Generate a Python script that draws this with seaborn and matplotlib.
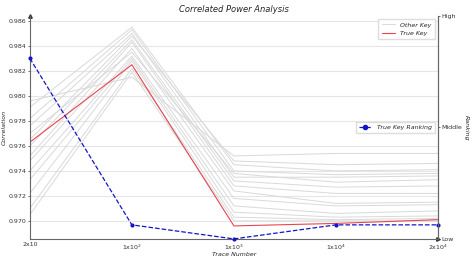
import pandas as pd
import matplotlib
matplotlib.use('Agg')
import matplotlib.pyplot as plt
from matplotlib.lines import Line2D
import seaborn as sns

sns.set_style('white')
plt.rcParams['font.family'] = ['DejaVu Sans']

traces = ['2x10', '1x10$^2$', '1x10$^3$', '1x10$^4$', '2x10$^4$']

# correlacao das chaves erradas (uma lista por chave)
other_keys = [
    [0.9796, 0.9815, 0.9752, 0.9754, 0.9754],
    [0.9791, 0.9855, 0.9745, 0.9740, 0.9741],
    [0.9782, 0.9853, 0.9740, 0.9737, 0.9738],
    [0.9776, 0.9850, 0.9735, 0.9735, 0.9736],
    [0.9770, 0.9835, 0.9738, 0.9731, 0.9733],
    [0.9765, 0.9848, 0.9748, 0.9745, 0.9746],
    [0.9760, 0.9845, 0.9732, 0.9727, 0.9728],
    [0.9752, 0.9843, 0.9728, 0.9722, 0.9722],
    [0.9748, 0.9838, 0.9724, 0.9714, 0.9715],
    [0.9740, 0.9832, 0.9718, 0.9712, 0.9713],
    [0.9733, 0.9830, 0.9712, 0.9706, 0.9708],
    [0.9722, 0.9828, 0.9707, 0.9703, 0.9704],
    [0.9710, 0.9822, 0.9703, 0.9701, 0.9702],
    [0.9705, 0.9819, 0.9700, 0.9700, 0.9700],
]
true_key = [0.9763, 0.9825, 0.9696, 0.9698, 0.9701]
ranking = [81, 6.3, 0, 6.3, 6.3]

rows = []
for i, k in enumerate(other_keys):
    for t, v in zip(traces, k):
        rows.append({'key': i, 'trace': t, 'corr': v})
df_other = pd.DataFrame(rows)
df_true = pd.DataFrame({'trace': traces, 'corr': true_key})
df_rank = pd.DataFrame({'trace': traces, 'rank': ranking})

fig = plt.figure(figsize=(4.74, 2.58), dpi=100)
ax = fig.add_axes([0.063, 0.074, 0.861, 0.864])

sns.lineplot(data=df_other, x='trace', y='corr', units='key', estimator=None,
             color='#d9d9d9', linewidth=0.7, ax=ax, sort=False)
sns.lineplot(data=df_true, x='trace', y='corr', color='#e8454f', linewidth=0.8,
             ax=ax, sort=False)

ax.set_xlim(0, 4)
ax.set_ylim(0.96856, 0.9864)
ax.set_yticks([0.970, 0.972, 0.974, 0.976, 0.978, 0.980, 0.982, 0.984, 0.986])
ax.set_yticklabels([f'{v:.3f}' for v in ax.get_yticks()])
ax.yaxis.grid(True, color='#e6e6e6', linewidth=0.8)
ax.set_axisbelow(True)
ax.tick_params(labelsize=4.5, length=1.5, width=0.5, colors='#333333', pad=1)
ax.set_xlabel('Trace Number', fontsize=4.5, style='italic', labelpad=0)
ax.set_ylabel('Correlation', fontsize=4.5, style='italic', labelpad=1)
ax.set_title('Correlated Power Analysis', fontsize=6, style='italic', pad=3)

for s in ['left', 'bottom', 'right']:
    ax.spines[s].set_color('#666666')
    ax.spines[s].set_linewidth(0.8)
ax.spines['top'].set_visible(False)
ax.plot(0, 1, '^', color='#333333', ms=2.5, transform=ax.transAxes, clip_on=False)
ax.plot(1, 0, '>', color='#333333', ms=2.5, transform=ax.transAxes, clip_on=False)

leg1 = ax.legend(handles=[Line2D([], [], color='#d9d9d9', lw=0.7, label='Other Key'),
                          Line2D([], [], color='#e8454f', lw=0.8, label='True Key')],
                 loc='upper right', prop={'style': 'italic', 'size': 4.5},
                 handlelength=2.2, borderpad=0.5, framealpha=1,
                 edgecolor='#dddddd', fancybox=False)

ax2 = ax.twinx()
sns.lineplot(data=df_rank, x='trace', y='rank', color='#1515c8', linestyle='--',
             linewidth=0.9, marker='o', markersize=3, markeredgewidth=0,
             ax=ax2, sort=False, clip_on=False)
ax2.set_xlim(0, 4)
ax2.set_ylim(0, 100)
ax2.set_yticks([0, 50, 100])
ax2.set_yticklabels(['Low', 'Middle', 'High'])
ax2.tick_params(labelsize=4.5, length=1.5, width=0.5, colors='#333333', pad=1)
ax2.set_ylabel('Ranking', fontsize=4.5, style='italic', rotation=270, labelpad=5)
ax2.set_xlabel('Trace Number', fontsize=4.5, style='italic', labelpad=0)
for s in ['top', 'left', 'bottom']:
    ax2.spines[s].set_visible(False)
ax2.spines['right'].set_color('#666666')
ax2.spines['right'].set_linewidth(0.8)
ax2.legend(handles=[Line2D([], [], color='#1515c8', ls='--', lw=0.9, marker='o',
                           ms=3, label='True Key Ranking')],
           loc='center right', prop={'style': 'italic', 'size': 4.5},
           handlelength=2.2, borderpad=0.4, framealpha=1, edgecolor='#dddddd',
           fancybox=False)

fig.savefig('out.png', dpi=100)
